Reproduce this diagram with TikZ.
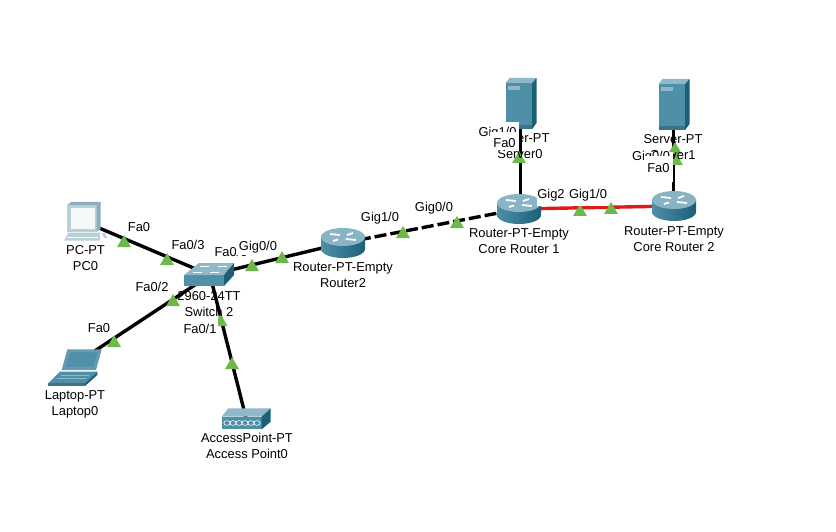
\documentclass[tikz,border=0pt]{standalone}
\usepackage{fontspec}
\setmainfont{Liberation Sans}
\usetikzlibrary{shapes.geometric}
\definecolor{pttop}{HTML}{8FB8C8}
\definecolor{ptfront}{HTML}{4F8FA8}
\definecolor{ptside}{HTML}{1B6078}
\definecolor{ptlight}{HTML}{B8D0DA}
\definecolor{ptgreen}{HTML}{6DB84A}
\definecolor{ptred}{HTML}{E01818}
\tikzset{
  routericon/.pic={
    \path[left color=ptfront, middle color=white!88!ptfront, right color=ptside]
      (-22,-6) -- (-22,6) arc[start angle=180, end angle=0, x radius=22, y radius=9] -- (22,-6) -- cycle;
    \fill[pttop!90!ptfront] (0,-6) ellipse[x radius=22, y radius=9];
    \draw[white, line width=1.8pt] (-13,-9) -- (-3,-8) (3,-4) -- (13,-3) (-10,-2) -- (-5,-3.5) (10,-10) -- (4,-8);
  },
  switchicon/.pic={
    \fill[ptfront] (-26,0) rectangle (14,11);
    \fill[pttop] (-26,0) -- (-11,-12) -- (24,-12) -- (14,0) -- cycle;
    \fill[ptside] (14,0) -- (24,-12) -- (24,0) -- (14,11) -- cycle;
    \draw[white, line width=.8pt] (-17,-3) -- (-8,-3) (0,-3) -- (9,-3) (-10,-9) -- (-1,-9) (8,-9) -- (17,-9);
  },
  servericon/.pic={
    \fill[ptfront] (-15,-20) rectangle (11.7,26);
    \fill[ptfront!80!black] (-15,22) rectangle (11.7,26);
    \fill[pttop] (-15,-20) -- (-11,-25) -- (16,-25) -- (11.7,-20) -- cycle;
    \fill[ptside] (11.7,-20) -- (16,-25) -- (16,20) -- (11.7,26) -- cycle;
    \fill[pttop] (-13,-17) rectangle (-1,-13);
  },
  pcicon/.pic={
    \fill[ptlight] (-17.7,-17) rectangle (11.7,9.7);
    \fill[ptlight!70!ptside] (11.7,-17) -- (15.7,-20) -- (-13.7,-20) -- (-17.7,-17) -- cycle;
    \fill[ptlight!70!ptside] (11.7,-17) -- (15.7,-20) -- (15.7,7) -- (11.7,9.7) -- cycle;
    \fill[white!85!ptlight] (-14.3,-13.7) rectangle (9.5,7);
    \fill[ptlight] (-21,18.7) -- (-16.7,10.7) -- (15,10.7) -- (15,18.7) -- cycle;
    \draw[white, line width=.8pt] (-18,15) -- (13,15);
    \fill[ptlight] (17,11) -- (20,11) -- (22,16) -- (19,16) -- cycle;
  },
  laptopicon/.pic={
    \fill[ptfront!70!pttop] (-7.7,-14.7) -- (26.7,-14.7) -- (21,6) -- (-13.3,6) -- cycle;
    \fill[ptfront] (-5,-11.7) -- (22.3,-11.7) -- (18.3,2.7) -- (-9,2.7) -- cycle;
    \fill[ptfront] (-26.7,19.3) -- (-15,7.7) -- (22.3,7.7) -- (10,19.3) -- cycle;
    \fill[ptfront!80!black] (-26.7,19.3) rectangle (10,22);
    \fill[ptside] (10,19.3) -- (22.3,7.7) -- (22.3,11) -- (10,22) -- cycle;
    \draw[pttop, line width=.8pt] (-14,11) -- (14,11) (-18,14) -- (11,14);
  },
  apicon/.pic={
    \fill[ptfront] (-24.3,-1.3) rectangle (15.7,11.3);
    \fill[pttop] (-24.3,-1.3) -- (-17.7,-9.7) -- (24.7,-9.7) -- (15.7,-1.3) -- cycle;
    \fill[ptside] (15.7,-1.3) -- (24.7,-9.7) -- (24.7,3.7) -- (15.7,11.3) -- cycle;
    \foreach \i in {-18,-12,-6,0,6,12}
      \draw[white, line width=.6pt] (\i-1,5) ellipse[x radius=3.2, y radius=2.4];
  }
}
\begin{document}
\begin{tikzpicture}[x=1pt,y=-1pt]
\tikzstyle{every node}=[font=\fontsize{12.9}{16}\selectfont, text=black]
\tikzstyle{device} = [inner sep=0pt, minimum size=0pt];
\tikzstyle{devlabel} = [align=center, inner sep=0pt];
\tikzstyle{port} = [fill=white, inner sep=1pt];
\tikzstyle{patch} = [fill=white, inner sep=0pt];
\tikzstyle{updot} = [regular polygon, regular polygon sides=3, fill=ptgreen, inner sep=0pt, minimum size=16pt, yshift=-2pt];
\tikzstyle{wire} = [line width=3.4pt, black];
\useasboundingbox (0,0) rectangle (836,532);

% devices
\node[device] (pc0) at (85,222) {};
\node[device] (switch2) at (210,275) {};
\node[device] (laptop0) at (75,364) {};
\node[device] (ap0) at (246,418) {};
\node[device] (router2) at (343,243) {};
\node[device] (core1) at (519,209) {};
\node[device] (core2) at (674,206) {};
\node[device] (server0) at (520.5,103) {};
\node[device] (server1) at (673.5,104) {};

% links
\draw[wire] (pc0) -- (switch2);
\draw[wire] (laptop0) -- (switch2);
\draw[wire] (ap0) -- (switch2);
\draw[wire] (switch2) -- (router2);
\draw[wire, dash pattern=on 12pt off 4pt] (router2) -- (core1);
\draw[wire, ptred] (core1) -- (core2);
\draw[wire] (core1 -| server0) -- (server0);
\draw[wire] (core2 -| server1) -- (server1);

\pic at (pc0) {pcicon};
\pic at (switch2) {switchicon};
\pic at (laptop0) {laptopicon};
\pic at (ap0) {apicon};
\pic at (router2) {routericon};
\pic at (core1) {routericon};
\pic at (core2) {routericon};
\pic at (server0) {servericon};
\pic at (server1) {servericon};

% link lights
\node[updot] (lightA) at (124,241) {};
\node[updot] (lightB) at (167,259) {};
\node[updot] (lightC) at (173,300) {};
\node[updot] (lightD) at (114,341) {};
\node[updot] (lightE) at (220.5,320) {};
\node[updot] (lightF) at (232,363) {};
\node[updot] (lightG) at (252,265) {};
\node[updot] (lightH) at (282,257) {};
\node[updot] (lightI) at (403,232) {};
\node[updot] (lightJ) at (457,222) {};
\node[updot] (lightK) at (519,157) {};
\node[updot] (lightL) at (580,210) {};
\node[updot] (lightM) at (611,208) {};
\node[updot] (lightN) at (675,148) {};
\node[updot] (lightO) at (676,159) {};

% device names
\node[devlabel] (pc0text) at (85.5,258) {PC-PT\\PC0};
\node[devlabel] (switch2text) at (209,304) {2960-24TT\\Switch 2};
\node[devlabel] (laptop0text) at (75,404) {Laptop-PT\\Laptop0};
\node[devlabel] (ap0text) at (247,446) {AccessPoint-PT\\Access Point0};
\node[devlabel] (router2text) at (343,275.5) {Router-PT-Empty\\Router2};
\node[devlabel] (core1text) at (519,241) {Router-PT-Empty\\Core Router 1};
\node[devlabel] (core2text) at (674,239.5) {Router-PT-Empty\\Core Router 2};
\node[devlabel] (server0text) at (520,146.5) {Server-PT\\Server0};
\node[devlabel] (server1text) at (673,147) {Server-PT\\Server1};

% port names
\node[port] (portA) at (139,227) {Fa0};
\node[port] (portB) at (188,245) {Fa0/3};
\node[port] (portC) at (152,287) {Fa0/2};
\node[port] (portD) at (99,328) {Fa0};
\node[patch, text height=16pt, text depth=7pt, minimum width=36pt] (portE) at (200,328.5) {Fa0/1};
\node[port] (portF) at (231,252) {Fa0/0};
\node[patch, text height=13pt, text depth=4pt, minimum width=44pt] (portG) at (258,246.5) {Gig0/0};
\node[port] (portH) at (380,218) {Gig1/0};
\node[port] (portI) at (434,208) {Gig0/0};
\node[patch, text height=11pt, text depth=8pt, minimum width=27pt] (portJ) at (551,197) {Gig2};
\node[patch, text height=11pt, text depth=8pt, minimum width=42pt] (portK) at (588,197) {Gig1/0};
\node[patch, text height=15pt, text depth=3pt, minimum width=43pt] (portL) at (497.5,131) {Gig1/0};
\node[patch, text height=16pt, text depth=2pt, minimum width=29pt] (portM) at (504.5,141) {Fa0};
\node[patch, text height=9pt, text depth=4pt, minimum width=44pt] (portN) at (651,158.5) {Gig0/0};
\node[patch, text height=17pt, text depth=9pt, minimum width=29pt] (portO) at (658.4,169) {Fa0};
\end{tikzpicture}
\end{document}
